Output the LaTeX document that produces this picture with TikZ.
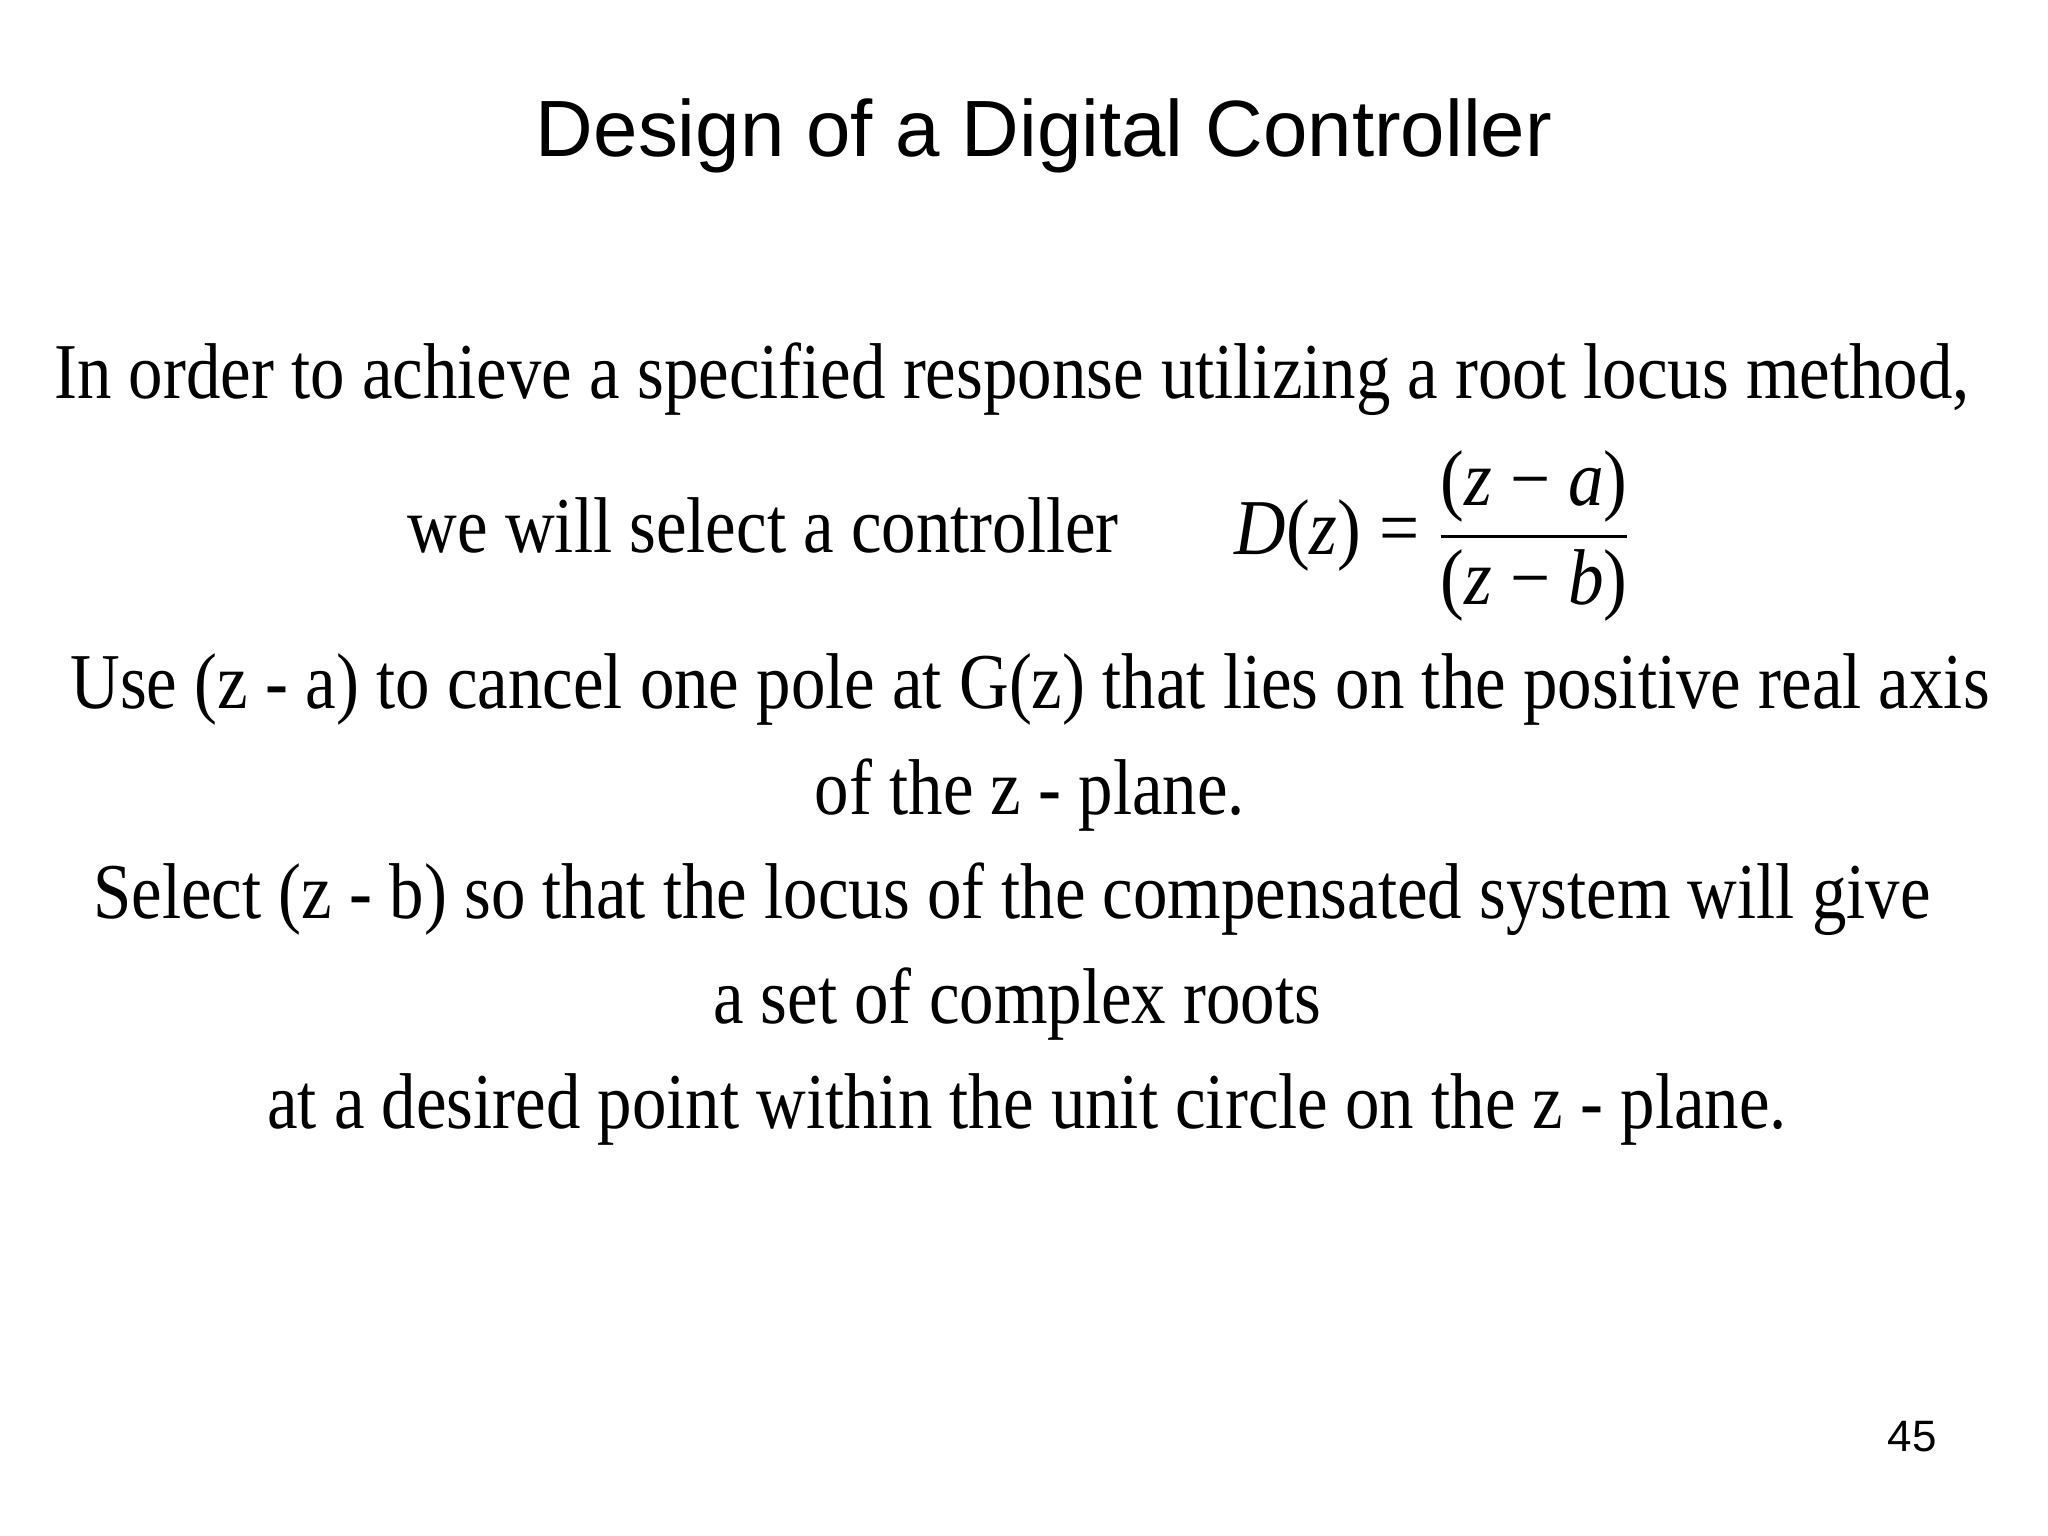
\documentclass[tikz,border=0pt]{standalone}
\usepackage{amsmath}
\usepackage{graphicx}
\usepackage{fontspec}
\setmainfont{Liberation Serif}
\newfontfamily\arialf{Liberation Sans}
\newcommand{\sqz}[1]{\scalebox{0.87}[1]{#1}}
\begin{document}
\begin{tikzpicture}[x=0.01cm,y=-0.01cm,
  body/.style={anchor=base,inner sep=0,font=\fontsize{22.5}{26}\selectfont}]
\useasboundingbox (0,0) rectangle (2048,1536);
\node[anchor=base,inner sep=0,font=\arialf\fontsize{22.7}{28}\selectfont] (title) at (1044,156) {Design of a Digital Controller};
\node[body] (l1) at (1012,398) {\sqz{In order to achieve a specified response utilizing a root locus method,}};
\node[body,anchor=base west] (l2) at (407,552) {\sqz{we will select a controller}};
\node[body,anchor=west] (frac) at (1234,536) {\scalebox{0.9}[1]{\textit{D}(\textit{z}) = $\dfrac{\mbox{(\textit{z} − \textit{a})}}{\mbox{(\textit{z} − \textit{b})}}$}};
\node[body] (l3) at (1030,708) {\sqz{Use (z - a) to cancel one pole at G(z) that lies on the positive real axis}};
\node[body] (l4) at (1030,814) {\sqz{of the z - plane.}};
\node[body] (l5) at (1012,918) {\sqz{Select (z - b) so that the locus of the compensated system will give}};
\node[body] (l6) at (1017,1023) {\sqz{a set of complex roots}};
\node[body] (l7) at (1027,1128) {\sqz{at a desired point within the unit circle on the z - plane.}};
\node[anchor=base,inner sep=0,font=\arialf\fontsize{12.5}{15}\selectfont] (pg) at (1912,1451) {45};
\end{tikzpicture}
\end{document}
